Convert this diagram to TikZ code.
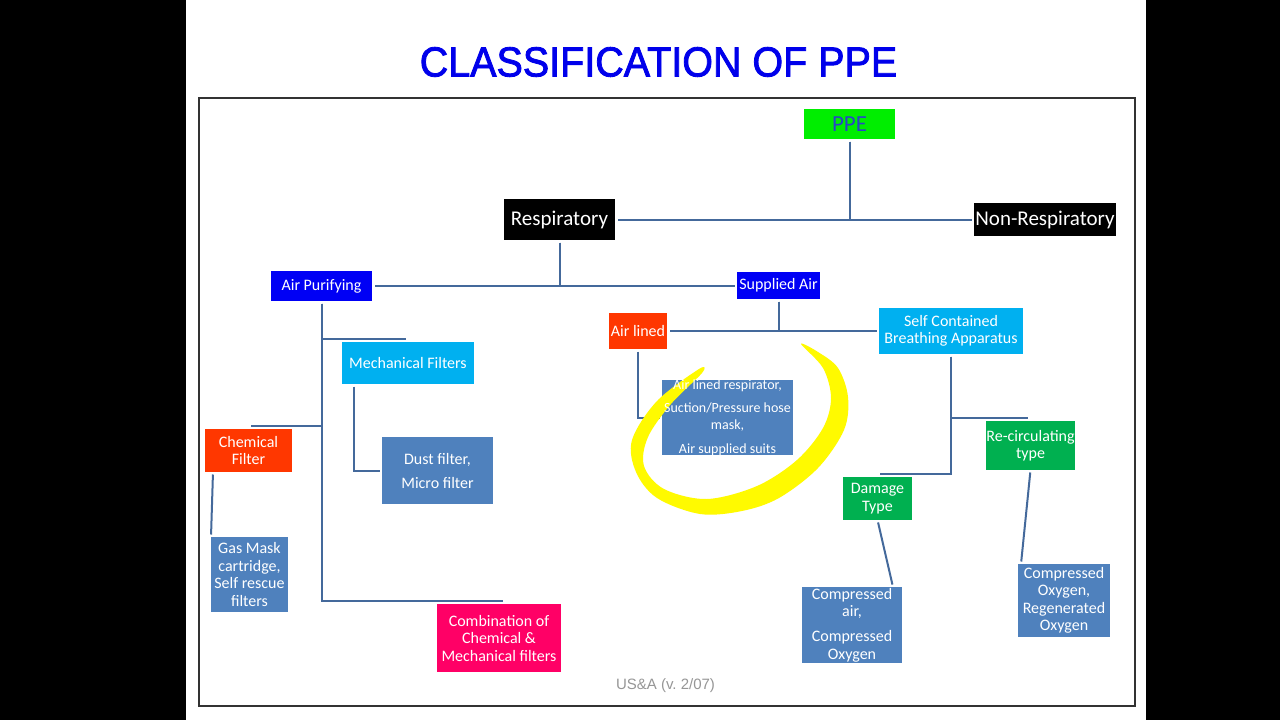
\documentclass[tikz,border=0pt]{standalone}
\usepackage{fontspec}
\setmainfont{Carlito}
\newfontfamily\titlefont{Liberation Sans}[FakeBold=2]
\newfontfamily\footfont{Liberation Sans}
\usetikzlibrary{backgrounds}
\definecolor{cppe}{RGB}{0,238,0}
\definecolor{cppetext}{RGB}{40,70,200}
\definecolor{cblue}{RGB}{0,0,245}
\definecolor{ccyan}{RGB}{0,176,240}
\definecolor{cred}{RGB}{255,55,0}
\definecolor{cmag}{RGB}{255,0,102}
\definecolor{cgreen}{RGB}{0,176,80}
\definecolor{csteel}{RGB}{79,129,189}
\definecolor{cline}{RGB}{68,105,155}
\definecolor{ctitle}{RGB}{0,0,235}
\definecolor{cfoot}{RGB}{150,150,150}
\definecolor{cframe}{RGB}{50,50,50}
\definecolor{chigh}{RGB}{255,250,0}
\begin{document}
\begin{tikzpicture}[x=1pt,y=-1pt,
  box/.style={inner sep=0pt, outer sep=0pt, align=center, text=white,
    font=\fontsize{16}{17.5}\selectfont},
  conn/.style={draw=cline, line width=2pt, shorten <=2.5pt, shorten >=2.5pt},
  highlight/.style={fill=chigh}]
\useasboundingbox (0,0) rectangle (1280,720);

% yellow highlight (above the box fill, below its text)
\fill[highlight] plot[smooth cycle, tension=0.55] coordinates {
  (699,369) (657,401) (632,440) (636,472) (657,498) (700,514) (742,511)
  (779,498) (818,468) (844,430) (848,397) (838,368) (818,352) (801,344)
  (823,368) (831,398) (823,428) (797,460) (757,486) (707,499) (664,489)
  (644,466) (648,437) (671,404) (702,373)};

% nodes
\node[box, fill=cppe, text=cppetext, minimum width=91pt, minimum height=30pt,
  font=\fontsize{23}{26}\selectfont] (ppe) at (849.5,124) {PPE};
\node[box, fill=black, minimum width=111pt, minimum height=41pt,
  font=\fontsize{21}{24}\selectfont] (resp) at (559.5,219.5) {Respiratory};
\node[box, fill=black, minimum width=142pt, minimum height=33pt,
  font=\fontsize{21}{24}\selectfont] (nonresp) at (1045,219.5) {Non-Respiratory};
\node[box, fill=cblue, minimum width=101pt, minimum height=30pt] (airpur) at (321.5,286) {Air Purifying};
\node[box, fill=cblue, minimum width=83pt, minimum height=27pt] (supp) at (778.5,285.5) {Supplied Air};
\node[box, fill=cred, minimum width=58pt, minimum height=36pt] (airlined) at (638,331) {Air lined};
\node[box, fill=ccyan, minimum width=144pt, minimum height=46pt] (scba) at (951,331)
  {Self Contained\\Breathing Apparatus};
\node[box, minimum width=131pt, minimum height=75pt,
  font=\fontsize{14}{17}\selectfont] (alr) at (727.5,417.5)
  {Air lined respirator,\\[6pt]Suction/Pressure hose\\mask,\\[7pt]Air supplied suits};
\node[box, fill=ccyan, minimum width=132pt, minimum height=42pt] (mech) at (408,363) {Mechanical Filters};
\node[box, fill=csteel, minimum width=111pt, minimum height=67pt] (dust) at (437.5,470.5)
  {Dust filter,\\[6.5pt]Micro filter};
\node[box, fill=cred, minimum width=87pt, minimum height=43pt] (chem) at (248.5,450.5)
  {Chemical\\Filter};
\node[box, fill=csteel, minimum width=77pt, minimum height=75pt] (gas) at (249.5,574.5)
  {Gas Mask\\cartridge,\\Self rescue\\filters};
\node[box, fill=cmag, minimum width=124pt, minimum height=68pt] (comb) at (499,638)
  {Combination of\\Chemical \&\\Mechanical filters};
\node[box, fill=cgreen, minimum width=69pt, minimum height=43pt] (damage) at (877.5,498.5)
  {Damage\\Type};
\node[box, fill=cgreen, minimum width=89pt, minimum height=49pt] (recirc) at (1030.5,445.5)
  {Re-circulating\\type};
\node[box, fill=csteel, minimum width=100pt, minimum height=76pt] (compair) at (852,625)
  {Compressed\\air,\\[7.5pt]Compressed\\Oxygen};
\node[box, fill=csteel, minimum width=92pt, minimum height=73pt] (compox) at (1064,600.5)
  {Compressed\\Oxygen,\\Regenerated\\Oxygen};

% title and footer
\node[text=ctitle, inner sep=0pt, font=\titlefont\fontsize{42}{46}\selectfont] (title) at (658.5,62)
  {\scalebox{0.94}[1]{CLASSIFICATION OF PPE}};
\node[text=cfoot, inner sep=0pt, font=\footfont\fontsize{15}{17}\selectfont] (foot) at (665.5,686)
  {US\&A (v.\ 2/07)};

% background, frame, connectors and the fill of the highlighted box
\begin{scope}[on background layer]
  \fill[black] (0,0) rectangle (1280,720);
  \fill[white] (186,0) rectangle (1146,720);
  \draw[cframe, line width=1.6pt] (199,98) rectangle (1135,706);

  \draw[conn] (ppe.south) |- (resp.east);
  \draw[conn] (ppe.south) |- (nonresp.west);
  \draw[conn] (resp.south) |- (airpur.east);
  \draw[conn] (resp.south) |- (supp.west);
  \draw[conn] (supp.south) |- (airlined.east);
  \draw[conn] (supp.south) |- (scba.west);
  \draw[conn] (airlined.south) |- (alr.west);

  \draw[conn] (airpur.south) |- ([yshift=3pt]mech.north);
  \draw[conn] (airpur.south) |- ([yshift=3pt]chem.north);
  \draw[conn] (airpur.south) |- ([xshift=6pt,yshift=3pt]comb.north);
  \draw[conn] ([xshift=12pt]mech.south west) |- (dust.west);
  \draw[conn] ([xshift=8pt]chem.south west) -- (gas.north west);

  \draw[conn] (scba.south) |- ([yshift=3pt]recirc.north);
  \draw[conn] (scba.south) |- ([yshift=3pt]damage.north);
  \draw[conn] (damage.south) -- ([xshift=41pt]compair.north);
  \draw[conn] (recirc.south) -- ([xshift=-43pt]compox.north);

  \fill[csteel] (alr.south west) rectangle (alr.north east);
\end{scope}
\end{tikzpicture}
\end{document}
